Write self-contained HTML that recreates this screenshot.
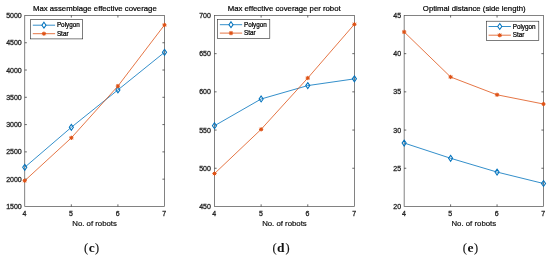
<!DOCTYPE html>
<html><head><meta charset="utf-8"><title>Figure</title>
<style>
html,body{margin:0;padding:0;background:#fff;}
svg{display:block;font-family:"Liberation Sans",sans-serif;}
</style></head><body>
<svg width="550" height="261" viewBox="0 0 550 261">
<rect width="550" height="261" fill="#fff"/>
<g><rect x="24.75" y="15.45" width="139.75" height="191" fill="#fff" stroke="#525252" stroke-width="0.72"/>
<path d="M71.33 206.45v-2.1M71.33 15.45v2.1M117.92 206.45v-2.1M117.92 15.45v2.1M24.75 179.16h2.1M164.5 179.16h-2.1M24.75 151.88h2.1M164.5 151.88h-2.1M24.75 124.59h2.1M164.5 124.59h-2.1M24.75 97.31h2.1M164.5 97.31h-2.1M24.75 70.02h2.1M164.5 70.02h-2.1M24.75 42.74h2.1M164.5 42.74h-2.1" stroke="#262626" stroke-width="0.7" fill="none"/>
<g font-size="7.0" fill="#262626" stroke="#262626" stroke-width="0.3"><text x="24.45" y="216" text-anchor="middle">4</text><text x="71.03" y="216" text-anchor="middle">5</text><text x="117.62" y="216" text-anchor="middle">6</text><text x="164.2" y="216" text-anchor="middle">7</text><text x="21.75" y="209" text-anchor="end">1500</text><text x="21.75" y="182" text-anchor="end">2000</text><text x="21.75" y="154" text-anchor="end">2500</text><text x="21.75" y="127" text-anchor="end">3000</text><text x="21.75" y="100" text-anchor="end">3500</text><text x="21.75" y="73" text-anchor="end">4000</text><text x="21.75" y="45" text-anchor="end">4500</text><text x="21.75" y="18" text-anchor="end">5000</text></g>
<text x="94.83" y="11" font-size="7.78" text-anchor="middle" fill="#000" stroke="#000" stroke-width="0.2">Max assemblage effective coverage</text>
<text x="94.62" y="226" font-size="7.8" text-anchor="middle" fill="#111" stroke="#111" stroke-width="0.2">No. of robots</text>
<polyline points="24.75,167.31 71.33,127.31 117.92,89.91 164.5,52.3" fill="none" stroke="#0072BD" stroke-width="0.8" stroke-linejoin="round"/>
<path d="M24.75 164.36l2.05 2.95l-2.05 2.95l-2.05 -2.95z" fill="none" stroke="#0072BD" stroke-width="1.05" stroke-linejoin="miter"/>
<path d="M71.33 124.36l2.05 2.95l-2.05 2.95l-2.05 -2.95z" fill="none" stroke="#0072BD" stroke-width="1.05" stroke-linejoin="miter"/>
<path d="M117.92 86.96l2.05 2.95l-2.05 2.95l-2.05 -2.95z" fill="none" stroke="#0072BD" stroke-width="1.05" stroke-linejoin="miter"/>
<path d="M164.5 49.35l2.05 2.95l-2.05 2.95l-2.05 -2.95z" fill="none" stroke="#0072BD" stroke-width="1.05" stroke-linejoin="miter"/>
<polyline points="24.75,180.7 71.33,137.86 117.92,86.1 164.5,24.93" fill="none" stroke="#DE5317" stroke-width="0.8" stroke-linejoin="round"/>
<path d="M22.6 180.7h4.3M24.75 178.55v4.3M23.23 179.18l3.04 3.04M23.23 182.22l3.04 -3.04" fill="none" stroke="#DE5317" stroke-width="1"/><circle cx="24.75" cy="180.7" r="1.55" fill="#DE5317"/>
<path d="M69.18 137.86h4.3M71.33 135.71v4.3M69.81 136.34l3.04 3.04M69.81 139.38l3.04 -3.04" fill="none" stroke="#DE5317" stroke-width="1"/><circle cx="71.33" cy="137.86" r="1.55" fill="#DE5317"/>
<path d="M115.77 86.1h4.3M117.92 83.95v4.3M116.4 84.58l3.04 3.04M116.4 87.62l3.04 -3.04" fill="none" stroke="#DE5317" stroke-width="1"/><circle cx="117.92" cy="86.1" r="1.55" fill="#DE5317"/>
<path d="M162.35 24.93h4.3M164.5 22.78v4.3M162.98 23.4l3.04 3.04M162.98 26.45l3.04 -3.04" fill="none" stroke="#DE5317" stroke-width="1"/><circle cx="164.5" cy="24.93" r="1.55" fill="#DE5317"/>
<rect x="30.5" y="19.7" width="52.2" height="19.2" fill="#fff" stroke="#262626" stroke-width="0.6"/>
<path d="M32.8 25.2H55.1" stroke="#0072BD" stroke-width="0.8"/>
<path d="M43.95 22.25l2.05 2.95l-2.05 2.95l-2.05 -2.95z" fill="#fff" stroke="#0072BD" stroke-width="1.05" stroke-linejoin="miter"/>
<path d="M32.8 33.7H55.1" stroke="#DE5317" stroke-width="0.8"/>
<path d="M41.8 33.7h4.3M43.95 31.55v4.3M42.43 32.18l3.04 3.04M42.43 35.22l3.04 -3.04" fill="none" stroke="#DE5317" stroke-width="1"/><circle cx="43.95" cy="33.7" r="1.55" fill="#DE5317"/>
<g font-size="6.35" fill="#000" stroke="#000" stroke-width="0.22"><text x="56.9" y="27">Polygon</text><text x="56.9" y="36">Star</text></g>
<g font-family="'Liberation Serif', serif" text-anchor="middle" fill="#111"><text x="86.05" y="252" font-size="12.4" stroke="#111" stroke-width="0.12">(</text><text x="91.8" y="252" font-size="13.5" font-weight="bold">c</text><text x="97.05" y="252" font-size="12.4" stroke="#111" stroke-width="0.12">)</text></g></g>
<g><rect x="214.5" y="15.45" width="139.9" height="191" fill="#fff" stroke="#525252" stroke-width="0.72"/>
<path d="M261.13 206.45v-2.1M261.13 15.45v2.1M307.77 206.45v-2.1M307.77 15.45v2.1M214.5 168.25h2.1M354.4 168.25h-2.1M214.5 130.05h2.1M354.4 130.05h-2.1M214.5 91.85h2.1M354.4 91.85h-2.1M214.5 53.65h2.1M354.4 53.65h-2.1" stroke="#262626" stroke-width="0.7" fill="none"/>
<g font-size="7.0" fill="#262626" stroke="#262626" stroke-width="0.3"><text x="214.2" y="216" text-anchor="middle">4</text><text x="260.83" y="216" text-anchor="middle">5</text><text x="307.47" y="216" text-anchor="middle">6</text><text x="354.1" y="216" text-anchor="middle">7</text><text x="210.9" y="209" text-anchor="end">450</text><text x="210.9" y="171" text-anchor="end">500</text><text x="210.9" y="133" text-anchor="end">550</text><text x="210.9" y="94" text-anchor="end">600</text><text x="210.9" y="56" text-anchor="end">650</text><text x="210.9" y="18" text-anchor="end">700</text></g>
<text x="284.2" y="11" font-size="7.78" text-anchor="middle" fill="#000" stroke="#000" stroke-width="0.2">Max effective coverage per robot</text>
<text x="284.45" y="226" font-size="7.8" text-anchor="middle" fill="#111" stroke="#111" stroke-width="0.2">No. of robots</text>
<polyline points="214.5,125.74 261.13,98.99 307.77,85.58 354.4,78.87" fill="none" stroke="#0072BD" stroke-width="0.8" stroke-linejoin="round"/>
<path d="M214.5 122.79l2.05 2.95l-2.05 2.95l-2.05 -2.95z" fill="none" stroke="#0072BD" stroke-width="1.05" stroke-linejoin="miter"/>
<path d="M261.13 96.04l2.05 2.95l-2.05 2.95l-2.05 -2.95z" fill="none" stroke="#0072BD" stroke-width="1.05" stroke-linejoin="miter"/>
<path d="M307.77 82.63l2.05 2.95l-2.05 2.95l-2.05 -2.95z" fill="none" stroke="#0072BD" stroke-width="1.05" stroke-linejoin="miter"/>
<path d="M354.4 75.92l2.05 2.95l-2.05 2.95l-2.05 -2.95z" fill="none" stroke="#0072BD" stroke-width="1.05" stroke-linejoin="miter"/>
<polyline points="214.5,173.59 261.13,129.32 307.77,78.04 354.4,24.24" fill="none" stroke="#DE5317" stroke-width="0.8" stroke-linejoin="round"/>
<path d="M212.35 173.59h4.3M214.5 171.44v4.3M212.98 172.07l3.04 3.04M212.98 175.11l3.04 -3.04" fill="none" stroke="#DE5317" stroke-width="1"/><circle cx="214.5" cy="173.59" r="1.55" fill="#DE5317"/>
<path d="M258.98 129.32h4.3M261.13 127.17v4.3M259.61 127.8l3.04 3.04M259.61 130.84l3.04 -3.04" fill="none" stroke="#DE5317" stroke-width="1"/><circle cx="261.13" cy="129.32" r="1.55" fill="#DE5317"/>
<path d="M305.62 78.04h4.3M307.77 75.89v4.3M306.25 76.52l3.04 3.04M306.25 79.56l3.04 -3.04" fill="none" stroke="#DE5317" stroke-width="1"/><circle cx="307.77" cy="78.04" r="1.55" fill="#DE5317"/>
<path d="M352.25 24.24h4.3M354.4 22.09v4.3M352.88 22.72l3.04 3.04M352.88 25.76l3.04 -3.04" fill="none" stroke="#DE5317" stroke-width="1"/><circle cx="354.4" cy="24.24" r="1.55" fill="#DE5317"/>
<rect x="217.55" y="19.4" width="52.25" height="19.2" fill="#fff" stroke="#262626" stroke-width="0.6"/>
<path d="M219.85 24.7H242.15" stroke="#0072BD" stroke-width="0.8"/>
<path d="M231 21.75l2.05 2.95l-2.05 2.95l-2.05 -2.95z" fill="#fff" stroke="#0072BD" stroke-width="1.05" stroke-linejoin="miter"/>
<path d="M219.85 33.1H242.15" stroke="#DE5317" stroke-width="0.8"/>
<path d="M228.85 33.1h4.3M231 30.95v4.3M229.48 31.58l3.04 3.04M229.48 34.62l3.04 -3.04" fill="none" stroke="#DE5317" stroke-width="1"/><circle cx="231" cy="33.1" r="1.55" fill="#DE5317"/>
<g font-size="6.35" fill="#000" stroke="#000" stroke-width="0.22"><text x="243.95" y="27">Polygon</text><text x="243.95" y="35">Star</text></g>
<g font-family="'Liberation Serif', serif" text-anchor="middle" fill="#111"><text x="274.5" y="252" font-size="12.4" stroke="#111" stroke-width="0.12">(</text><text x="280.75" y="252" font-size="13.5" font-weight="bold">d</text><text x="287.55" y="252" font-size="12.4" stroke="#111" stroke-width="0.12">)</text></g></g>
<g><rect x="404.15" y="15.45" width="139.35" height="191" fill="#fff" stroke="#525252" stroke-width="0.72"/>
<path d="M450.6 206.45v-2.1M450.6 15.45v2.1M497.05 206.45v-2.1M497.05 15.45v2.1M404.15 168.25h2.1M543.5 168.25h-2.1M404.15 130.05h2.1M543.5 130.05h-2.1M404.15 91.85h2.1M543.5 91.85h-2.1M404.15 53.65h2.1M543.5 53.65h-2.1" stroke="#262626" stroke-width="0.7" fill="none"/>
<g font-size="7.0" fill="#262626" stroke="#262626" stroke-width="0.3"><text x="403.85" y="216" text-anchor="middle">4</text><text x="450.3" y="216" text-anchor="middle">5</text><text x="496.75" y="216" text-anchor="middle">6</text><text x="543.2" y="216" text-anchor="middle">7</text><text x="401.05" y="209" text-anchor="end">20</text><text x="401.05" y="171" text-anchor="end">25</text><text x="401.05" y="133" text-anchor="end">30</text><text x="401.05" y="94" text-anchor="end">35</text><text x="401.05" y="56" text-anchor="end">40</text><text x="401.05" y="18" text-anchor="end">45</text></g>
<text x="474.22" y="11" font-size="7.78" text-anchor="middle" fill="#000" stroke="#000" stroke-width="0.2">Optimal distance (side length)</text>
<text x="473.82" y="226" font-size="7.8" text-anchor="middle" fill="#111" stroke="#111" stroke-width="0.2">No. of robots</text>
<polyline points="404.15,143.03 450.6,158.28 497.05,172.07 543.5,183.5" fill="none" stroke="#0072BD" stroke-width="0.8" stroke-linejoin="round"/>
<path d="M404.15 140.09l2.05 2.95l-2.05 2.95l-2.05 -2.95z" fill="none" stroke="#0072BD" stroke-width="1.05" stroke-linejoin="miter"/>
<path d="M450.6 155.33l2.05 2.95l-2.05 2.95l-2.05 -2.95z" fill="none" stroke="#0072BD" stroke-width="1.05" stroke-linejoin="miter"/>
<path d="M497.05 169.12l2.05 2.95l-2.05 2.95l-2.05 -2.95z" fill="none" stroke="#0072BD" stroke-width="1.05" stroke-linejoin="miter"/>
<path d="M543.5 180.55l2.05 2.95l-2.05 2.95l-2.05 -2.95z" fill="none" stroke="#0072BD" stroke-width="1.05" stroke-linejoin="miter"/>
<polyline points="404.15,31.94 450.6,76.97 497.05,94.8 543.5,104.02" fill="none" stroke="#DE5317" stroke-width="0.8" stroke-linejoin="round"/>
<path d="M402 31.94h4.3M404.15 29.79v4.3M402.63 30.42l3.04 3.04M402.63 33.46l3.04 -3.04" fill="none" stroke="#DE5317" stroke-width="1"/><circle cx="404.15" cy="31.94" r="1.55" fill="#DE5317"/>
<path d="M448.45 76.97h4.3M450.6 74.82v4.3M449.08 75.45l3.04 3.04M449.08 78.49l3.04 -3.04" fill="none" stroke="#DE5317" stroke-width="1"/><circle cx="450.6" cy="76.97" r="1.55" fill="#DE5317"/>
<path d="M494.9 94.8h4.3M497.05 92.65v4.3M495.53 93.28l3.04 3.04M495.53 96.32l3.04 -3.04" fill="none" stroke="#DE5317" stroke-width="1"/><circle cx="497.05" cy="94.8" r="1.55" fill="#DE5317"/>
<path d="M541.35 104.02h4.3M543.5 101.87v4.3M541.98 102.5l3.04 3.04M541.98 105.54l3.04 -3.04" fill="none" stroke="#DE5317" stroke-width="1"/><circle cx="543.5" cy="104.02" r="1.55" fill="#DE5317"/>
<rect x="486.3" y="21.2" width="52.5" height="19.2" fill="#fff" stroke="#262626" stroke-width="0.6"/>
<path d="M488.6 26.5H510.9" stroke="#0072BD" stroke-width="0.8"/>
<path d="M499.75 23.55l2.05 2.95l-2.05 2.95l-2.05 -2.95z" fill="#fff" stroke="#0072BD" stroke-width="1.05" stroke-linejoin="miter"/>
<path d="M488.6 35.2H510.9" stroke="#DE5317" stroke-width="0.8"/>
<path d="M497.6 35.2h4.3M499.75 33.05v4.3M498.23 33.68l3.04 3.04M498.23 36.72l3.04 -3.04" fill="none" stroke="#DE5317" stroke-width="1"/><circle cx="499.75" cy="35.2" r="1.55" fill="#DE5317"/>
<g font-size="6.35" fill="#000" stroke="#000" stroke-width="0.22"><text x="512.7" y="29">Polygon</text><text x="512.7" y="37">Star</text></g>
<g font-family="'Liberation Serif', serif" text-anchor="middle" fill="#111"><text x="464.8" y="252" font-size="12.4" stroke="#111" stroke-width="0.12">(</text><text x="470.5" y="252" font-size="13.5" font-weight="bold">e</text><text x="476" y="252" font-size="12.4" stroke="#111" stroke-width="0.12">)</text></g></g>
</svg>
</body></html>
